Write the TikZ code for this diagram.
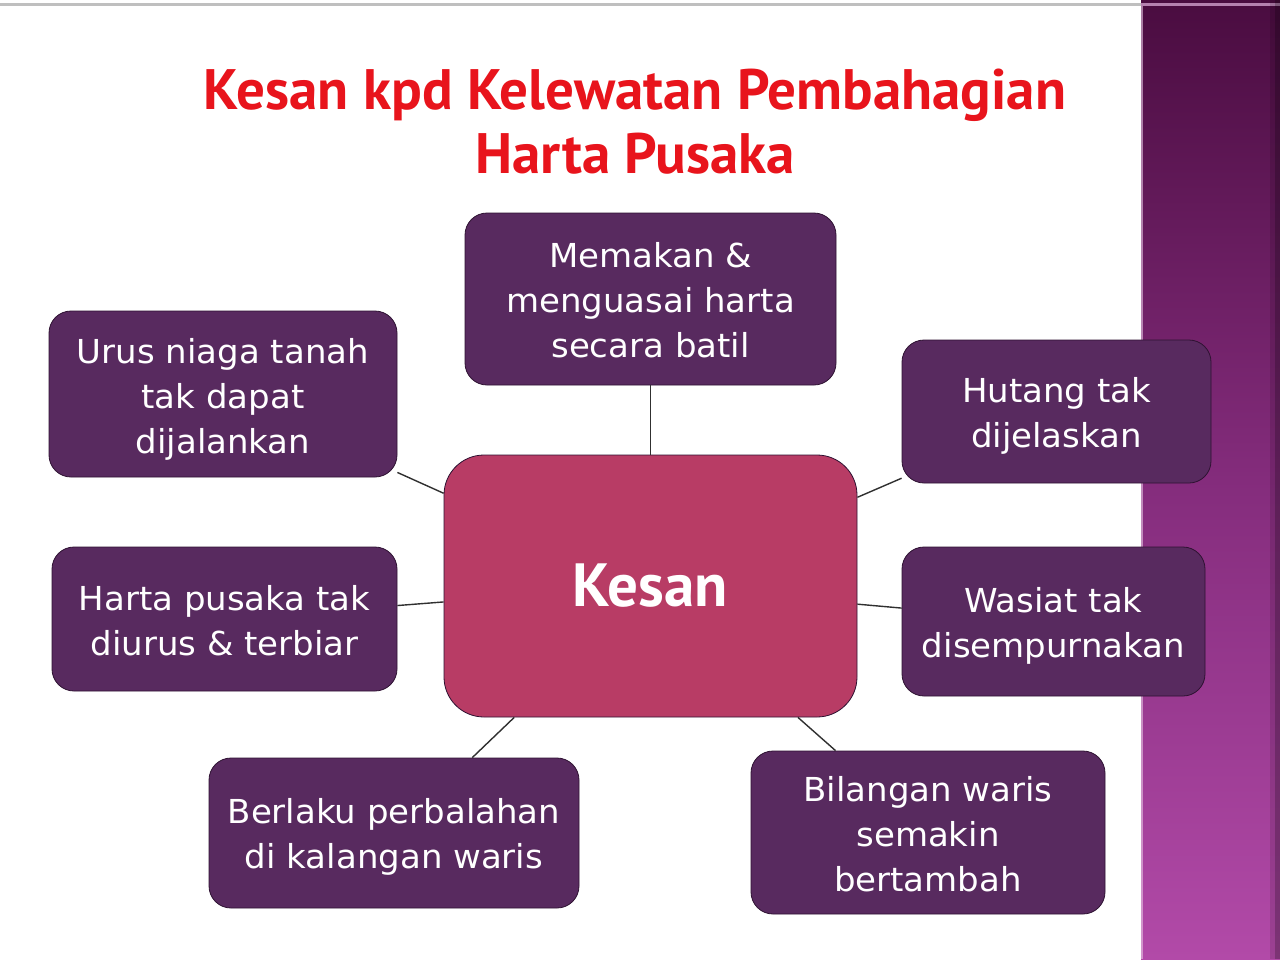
\documentclass[tikz,border=0pt]{standalone}
\usepackage{fontspec}
\setmainfont{PT Sans}
\newfontfamily\bodyfont[FakeStretch=1.03]{DejaVu Sans}
\usetikzlibrary{shadings}
\definecolor{boxpurple}{HTML}{582A5F}
\definecolor{boxedge}{HTML}{2E1232}
\definecolor{kesanfill}{HTML}{B83C65}
\definecolor{titlered}{HTML}{E8141C}
\definecolor{bandtop}{HTML}{4A0C40}
\definecolor{bandmid}{HTML}{842C7C}
\definecolor{bandbot}{HTML}{B24AA8}
\definecolor{lineclr}{HTML}{303030}
\tikzset{
  leafbox/.style={draw=boxedge, line width=0.8pt, fill=boxpurple, rounded corners=22pt,
    inner sep=0pt},
  leaftext/.style={text=white, align=center, inner sep=0pt,
    font=\bodyfont\fontsize{33}{45}\selectfont},
  hubbox/.style={draw=boxedge, line width=0.8pt, fill=kesanfill, rounded corners=40pt,
    text=white, align=center, inner sep=0pt,
    font=\fontsize{61}{60}\selectfont\bfseries},
  link/.style={draw=lineclr, line width=1.4pt},
  titletext/.style={text=titlered, align=center, font=\fontsize{57}{64}\selectfont\bfseries}
}
\begin{document}
\begin{tikzpicture}[x=1pt,y=-1pt]
\useasboundingbox (0,0) rectangle (1280,959);
\fill[white] (0,0) rectangle (1280,959);
% top grey rule
\fill[gray!50] (0,2.5) rectangle (1141,6);
% right band
\shade[top color=bandtop, bottom color=bandbot, middle color=bandmid] (1141,0) rectangle (1280,959);
\fill[bandmid!60!white] (1141,3) rectangle (1280,6);
\fill[white!70!bandbot, opacity=0.6] (1141,6) rectangle (1143,959);
\fill[black, opacity=0.12] (1270,0) rectangle (1280,959);
\fill[black, opacity=0.2] (1275,0) rectangle (1280,959);

% title
\node[titletext] (title) at (635,122) {Kesan kpd Kelewatan Pembahagian\\Harta Pusaka};

% hub
\node[hubbox, minimum width=413pt, minimum height=262pt] (kesan) at (650.5,586) {Kesan};

% leaves (boxes)
\node[leafbox, minimum width=371pt, minimum height=172pt] (makan) at (650.5,299) {};
\node[leafbox, minimum width=348pt, minimum height=166pt] (urus) at (223,394) {};
\node[leafbox, minimum width=309pt, minimum height=143pt] (hutang) at (1056.5,411.5) {};
\node[leafbox, minimum width=345pt, minimum height=144pt] (harta) at (224.5,619) {};
\node[leafbox, minimum width=303pt, minimum height=149pt] (wasiat) at (1053.5,621.5) {};
\node[leafbox, minimum width=370pt, minimum height=150pt] (berlaku) at (394,833) {};
\node[leafbox, minimum width=354pt, minimum height=163pt] (bilangan) at (928,832.5) {};

% leaves (texts)
\node[leaftext] (makan-t) at ([yshift=-1pt]makan.center) {Memakan \&\\menguasai harta\\secara batil};
\node[leaftext] (urus-t) at ([yshift=-5pt]urus.center) {Urus niaga tanah\\tak dapat\\dijalankan};
\node[leaftext] (hutang-t) at ([yshift=-4pt]hutang.center) {Hutang tak\\dijelaskan};
\node[leaftext] (harta-t) at ([yshift=-2pt]harta.center) {Harta pusaka tak\\diurus \& terbiar};
\node[leaftext] (wasiat-t) at ([yshift=-4pt]wasiat.center) {Wasiat tak\\disempurnakan};
\node[leaftext] (berlaku-t) at ([yshift=-4pt]berlaku.center) {Berlaku perbalahan\\di kalangan waris};
\node[leaftext] (bilangan-t) at ([yshift=-2pt]bilangan.center) {Bilangan waris\\semakin\\bertambah};

% connectors
\draw[link] (makan) -- (kesan);
\draw[link] (urus) -- (kesan);
\draw[link] (hutang) -- (kesan);
\draw[link] (harta) -- (kesan);
\draw[link] (wasiat) -- (kesan);
\draw[link] (berlaku) -- (kesan);
\draw[link] (bilangan) -- (kesan);
\end{tikzpicture}
\end{document}
